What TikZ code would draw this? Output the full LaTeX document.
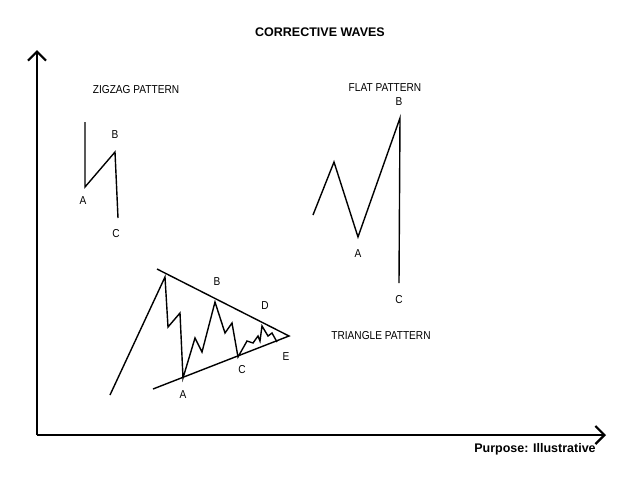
\documentclass[tikz,border=0pt]{standalone}
\usepackage{fontspec}
\setmainfont{Liberation Sans}
\newfontfamily\lblfont[FakeStretch=0.88]{Liberation Sans}
\usetikzlibrary{arrows.meta}
\begin{document}
\begin{tikzpicture}[x=1pt,y=-1pt,
  wave/.style={line width=1.4pt,line join=miter},
  lbl/.style={font=\lblfont\fontsize{11.5}{13}\selectfont,inner sep=0pt},
  axis/.style={line width=2.2pt,-{Straight Barb[length=9pt,width=18pt,line width=2.2pt]}}]
\useasboundingbox (0,0) rectangle (640,480);
\coordinate (o) at (37,435);
\coordinate (ytop) at (37,50);
\coordinate (xend) at (606,435);
\draw[axis] (o) -- (ytop);
\draw[axis] (o) -- (xend);
\node[font=\bfseries\fontsize{12.5}{14}\selectfont] (title) at (320,32) {CORRECTIVE WAVES};
\node[font=\bfseries\fontsize{12.5}{14}\selectfont] (purpose) at (535,449) {Purpose: Illustrative};
% zigzag
\node[lbl] (zt) at (136,90) {ZIGZAG PATTERN};
\draw[wave] (85,122) -- (85,187) -- (115,152) -- (118,218);
\node[lbl] (za) at (83,201) {A};
\node[lbl] (zb) at (115,135) {B};
\node[lbl] (zc) at (116,234) {C};
% flat
\node[lbl] (ft) at (385,88) {FLAT PATTERN};
\draw[wave] (313,215) -- (334,162) -- (358,237) -- (400,118) -- (399,283);
\node[lbl] (fa) at (358,254) {A};
\node[lbl] (fb) at (399,102) {B};
\node[lbl] (fc) at (399,300) {C};
% triangle
\coordinate (apex) at (289,336);
\draw[wave] (157,269) -- (apex) -- (153,389);
\draw[wave] (110,395) -- (165,277) -- (168,327) -- (180,313) -- (183,378)
  -- (195,338) -- (202,352) -- (215,302) -- (225,333) -- (232,323) -- (238,357)
  -- (247,341) -- (253,343) -- (258,336) -- (260,341) -- (262,326) -- (268,336)
  -- (272,333) -- (277,342);
\node[lbl] (tt) at (381,336) {TRIANGLE PATTERN};
\node[lbl] (ta) at (183,395) {A};
\node[lbl] (tb) at (217,282) {B};
\node[lbl] (tc) at (242,370) {C};
\node[lbl] (td) at (265,306) {D};
\node[lbl] (te) at (286,357) {E};
\end{tikzpicture}
\end{document}
